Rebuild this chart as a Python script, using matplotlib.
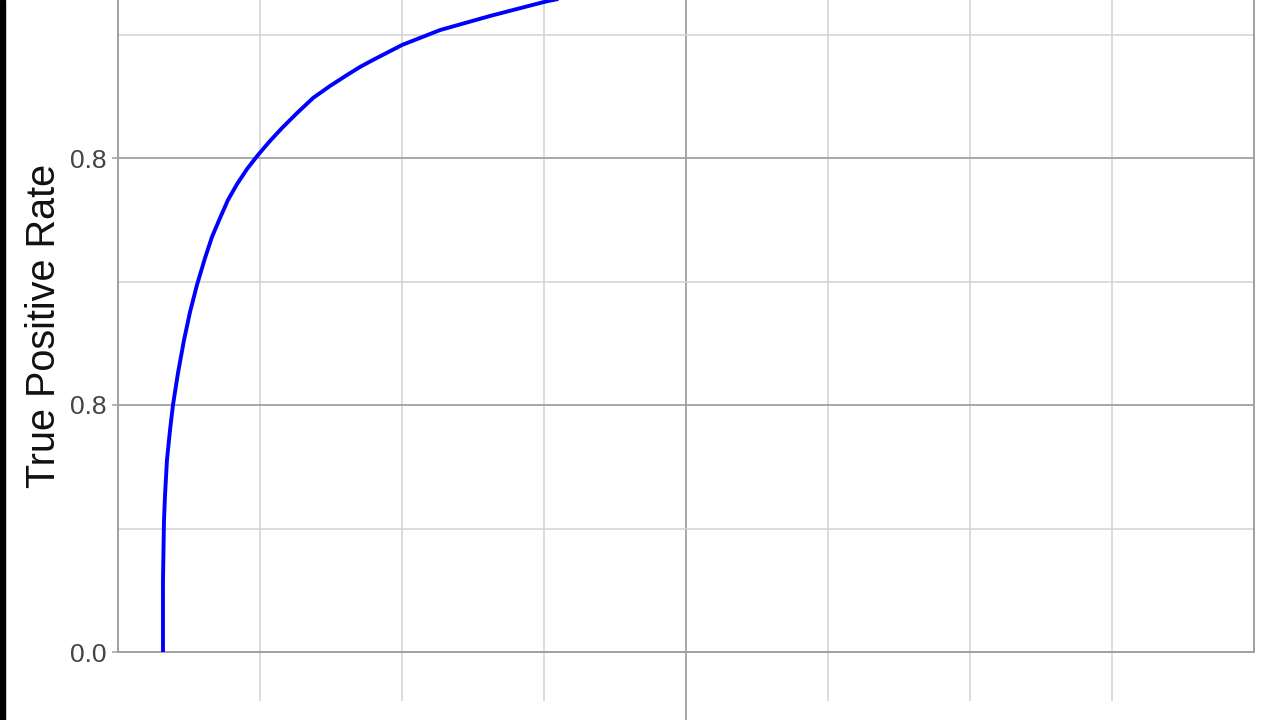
import numpy as np
import matplotlib
matplotlib.use("Agg")
import matplotlib.pyplot as plt
from matplotlib.patches import Rectangle

# ROC curve (cropped view)
fpr = [0.0396, 0.0396, 0.0405, 0.0414, 0.0431, 0.0458, 0.0484, 0.0528, 0.0581,
       0.0634, 0.0695, 0.0766, 0.0827, 0.0898, 0.0968, 0.1048, 0.1136, 0.1232,
       0.1338, 0.1444, 0.1576, 0.1717, 0.1866, 0.2016, 0.2130, 0.2245, 0.2500,
       0.2835, 0.3275, 0.3715, 0.3785, 0.4000]
tpr = [0.0000, 0.0583, 0.1069, 0.1271, 0.1555, 0.1798, 0.2000, 0.2259, 0.2526,
       0.2753, 0.2972, 0.3190, 0.3360, 0.3514, 0.3660, 0.3789, 0.3911, 0.4024,
       0.4138, 0.4243, 0.4364, 0.4486, 0.4583, 0.4672, 0.4737, 0.4794, 0.4915,
       0.5036, 0.5150, 0.5255, 0.5271, 0.5310]

x_major = [0.5]
x_minor = [0.125, 0.25, 0.375, 0.625, 0.75, 0.875]
y_major = [0.0, 0.2, 0.4]
y_labels = ["0.0", "0.8", "0.8"]
y_minor = [0.1, 0.3, 0.5]

plt.rcParams['font.family'] = ['Liberation Sans', 'DejaVu Sans']

fig = plt.figure(figsize=(12.8, 7.2), dpi=100)
ax = fig.add_axes([118 / 1280, 68 / 720, 1136 / 1280, 652 / 720])

ax.plot(fpr, tpr, color="#0000ff", linewidth=2.8, solid_capstyle="butt",
        solid_joinstyle="round", zorder=3)

ax.set_xlim(0, 1)
ax.set_ylim(0, 652 / 1235)

ax.set_xticks(x_major)
ax.set_xticks(x_minor, minor=True)
ax.set_yticks(y_major)
ax.set_yticklabels(y_labels)
ax.set_yticks(y_minor, minor=True)
ax.set_xticklabels([])

ax.grid(which="major", color="#a0a0a0", linewidth=1.3)
ax.grid(which="minor", color="#d2d2d2", linewidth=1.1)
ax.set_axisbelow(True)

ax.tick_params(axis="x", which="major", length=52, width=1.3, color="#a0a0a0")
ax.tick_params(axis="x", which="minor", length=35, width=1.1, color="#d2d2d2")
ax.tick_params(axis="y", which="major", length=4, width=1.1, color="#a0a0a0",
               labelsize=19, labelcolor="#444444", pad=4)
ax.tick_params(axis="y", which="minor", length=0)

for side in ["left", "right", "bottom"]:
    ax.spines[side].set_color("#a0a0a0")
    ax.spines[side].set_linewidth(1.4)
ax.spines["top"].set_visible(False)

ax.set_ylabel("True Positive Rate", fontsize=28.5, color="#111111", labelpad=5)

# black strip at the left edge of the screenshot
fig.add_artist(Rectangle((0, 0), 5 / 1280, 1, transform=fig.transFigure,
                         color="black", zorder=10))

plt.savefig("out.png", dpi=100)
